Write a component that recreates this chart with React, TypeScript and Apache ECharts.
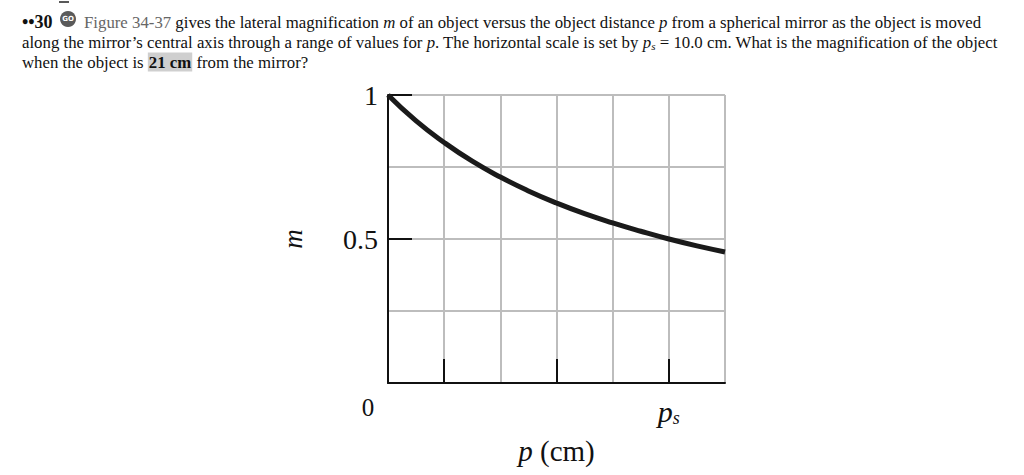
import React, { useEffect, useRef } from "react";
import * as echarts from "echarts";

// Object distance p (cm) and lateral magnification m
const pValues = [0, 1, 2, 3, 4, 5, 6, 7, 8, 9, 10, 11, 12];
const mValues = [1.0, 0.91, 0.835, 0.77, 0.715, 0.667, 0.625, 0.588, 0.556, 0.527, 0.5, 0.476, 0.455];

// Tick positions and labels on the axes
const xTickValues = [2, 6, 10];
const xLabelValues = [0, 10];
const yLabelValues = [0.5, 1];

const serif = "'Liberation Serif', 'DejaVu Serif', serif";
const headSize = 16.8;

export default function App() {
  const ref = useRef<HTMLDivElement>(null);

  useEffect(() => {
    if (!ref.current) return;
    const chart = echarts.init(ref.current, undefined, { renderer: "svg" });

    const curve = pValues.map((p, i) => [p, mValues[i]]);

    const textStyleBase = { fontFamily: serif, fontSize: headSize, fill: "#111" };
    const italic = { fontFamily: serif, fontSize: headSize, fontStyle: "italic", fill: "#111" };

    chart.setOption({
      animation: false,
      backgroundColor: "#fff",
      grid: { left: 388, top: 95, width: 337, height: 288, containLabel: false },
      xAxis: [
        {
          type: "value",
          min: 0,
          max: 12,
          interval: 2,
          axisLine: { show: true, onZero: false, lineStyle: { color: "#111", width: 2 } },
          axisTick: { show: false },
          axisLabel: { show: false },
          splitLine: { show: true, lineStyle: { color: "#bdbdbd", width: 2 } },
          name: "{i|p} (cm)",
          nameLocation: "middle",
          nameGap: 53,
          nameTextStyle: {
            fontFamily: serif,
            fontSize: 29,
            color: "#111",
            rich: { i: { fontFamily: serif, fontSize: 29, fontStyle: "italic", color: "#111" } },
          },
        },
        {
          type: "value",
          position: "bottom",
          min: 0,
          max: 12,
          axisLine: { show: false },
          splitLine: { show: false },
          axisTick: {
            show: true,
            inside: true,
            length: 24,
            customValues: xTickValues,
            lineStyle: { color: "#111", width: 2 },
          },
          axisLabel: {
            show: true,
            customValues: xLabelValues,
            margin: 12,
            formatter: (v: number) => (v === 0 ? "{z|0}" : "{p|p}{s|s}"),
            rich: {
              z: { fontFamily: serif, fontSize: 25, color: "#111", padding: [0, 40, 0, 0] },
              p: { fontFamily: serif, fontSize: 30, fontStyle: "italic", color: "#111" },
              s: { fontFamily: serif, fontSize: 18, fontStyle: "italic", color: "#111", padding: [14, 0, 0, 0] },
            },
          },
        },
      ],
      yAxis: [
        {
          type: "value",
          min: 0,
          max: 1,
          interval: 0.25,
          axisLine: { show: true, onZero: false, lineStyle: { color: "#111", width: 2 } },
          axisTick: { show: false },
          axisLabel: { show: false },
          splitLine: { show: true, lineStyle: { color: "#bdbdbd", width: 2 } },
          name: "m",
          nameLocation: "middle",
          nameRotate: 90,
          nameGap: 82,
          nameTextStyle: { fontFamily: serif, fontSize: 27, fontStyle: "italic", color: "#111" },
        },
        {
          type: "value",
          position: "left",
          min: 0,
          max: 1,
          interval: 0.5,
          axisLine: { show: false },
          splitLine: { show: false },
          axisTick: { show: true, inside: true, length: 24, lineStyle: { color: "#111", width: 2 } },
          axisLabel: {
            show: true,
            margin: 10,
            fontFamily: serif,
            fontSize: 28,
            color: "#111",
            formatter: (v: number) => (yLabelValues.includes(v) ? String(v) : ""),
          },
        },
      ],
      series: [
        {
          type: "line",
          data: curve,
          smooth: true,
          showSymbol: false,
          clip: false,
          lineStyle: { color: "#1a1a1a", width: 5 },
          z: 5,
        },
      ],
      graphic: [
        { type: "line", shape: { x1: 59, y1: 2, x2: 69, y2: 2 }, style: { stroke: "#222", lineWidth: 1.5 } },
        { type: "circle", shape: { cx: 68, cy: 19, r: 8 }, style: { fill: "#5a5a5a" } },
        {
          type: "text",
          x: 68,
          y: 19,
          style: {
            text: "GO",
            fill: "#fff",
            fontSize: 7,
            fontWeight: "bold",
            fontFamily: "'DejaVu Sans', sans-serif",
            align: "center",
            verticalAlign: "middle",
          },
        },
        {
          type: "text",
          x: 22,
          y: 22,
          style: {
            ...textStyleBase,
            verticalAlign: "middle",
            text: "{b|••30}",
            rich: { b: { fontFamily: serif, fontSize: 18, fontWeight: "bold", fill: "#111" } },
          },
        },
        {
          type: "text",
          x: 84,
          y: 22,
          style: {
            ...textStyleBase,
            verticalAlign: "middle",
            text: "{g|Figure 34-37} gives the lateral magnification {i|m} of an object versus the object distance {i|p} from a spherical mirror as the object is moved",
            rich: {
              g: { fontFamily: serif, fontSize: headSize, fill: "#666" },
              i: italic,
            },
          },
        },
        {
          type: "text",
          x: 22,
          y: 42,
          style: {
            ...textStyleBase,
            verticalAlign: "middle",
            text: "along the mirror’s central axis through a range of values for {i|p}. The horizontal scale is set by {i|p}{s|s} = 10.0 cm. What is the magnification of the object",
            rich: {
              i: italic,
              s: { fontFamily: serif, fontSize: 11, fontStyle: "italic", fill: "#111", padding: [8, 0, 0, 0] },
            },
          },
        },
        {
          type: "text",
          x: 22,
          y: 62,
          style: {
            ...textStyleBase,
            verticalAlign: "middle",
            text: "when the object is {h|21 cm} from the mirror?",
            rich: {
              h: {
                fontFamily: serif,
                fontSize: headSize,
                fontWeight: "bold",
                fill: "#111",
                backgroundColor: "#cfcfcf",
                padding: [1, 1, 1, 1],
              },
            },
          },
        },
      ],
    });

    return () => chart.dispose();
  }, []);

  return (
    <div
      ref={ref}
      style={{ position: "fixed", left: 0, top: 0, width: 1024, height: 475 }}
    />
  );
}
